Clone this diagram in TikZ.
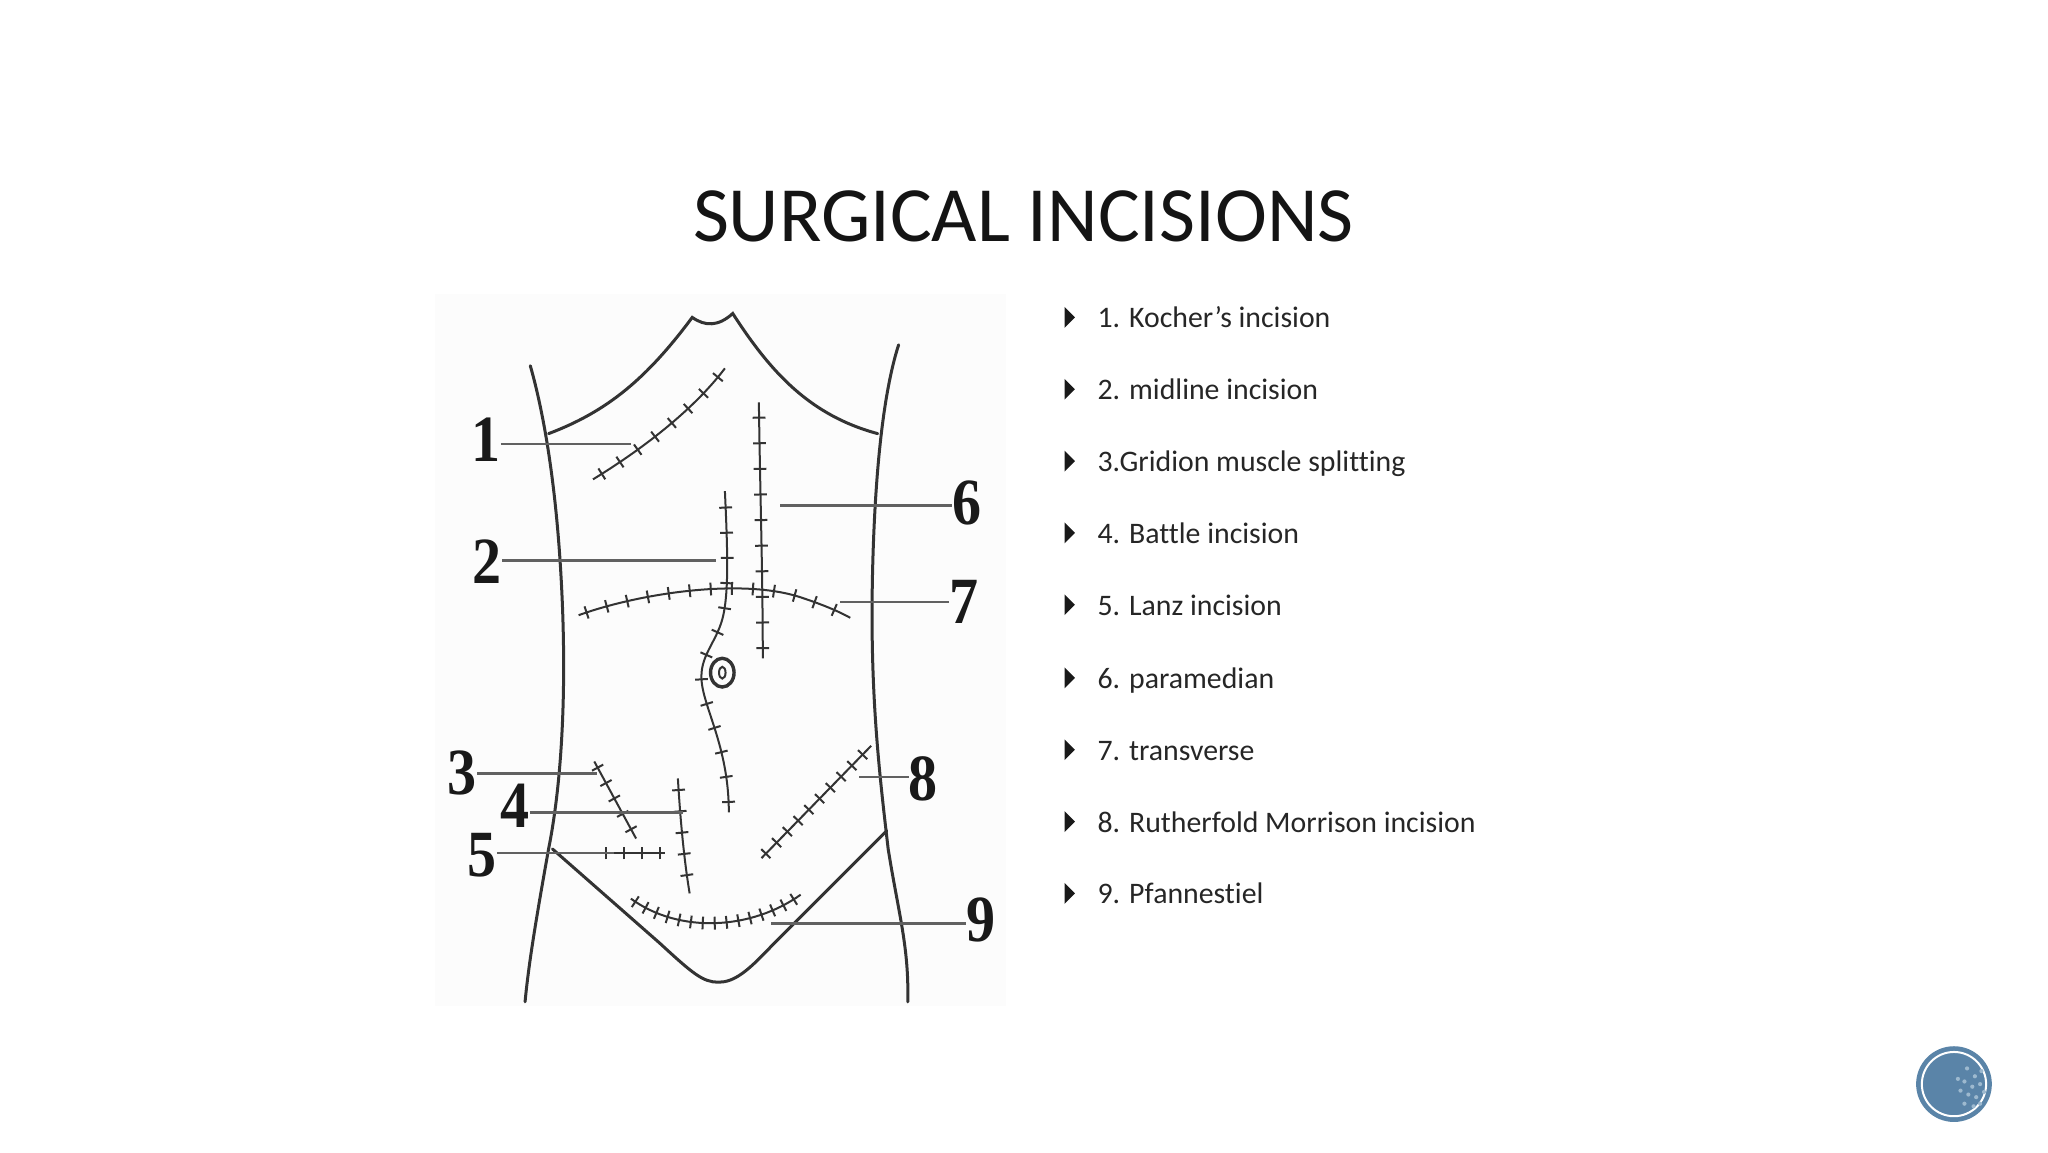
\documentclass[tikz,border=0pt]{standalone}
\usepackage{fontspec}
\setmainfont{Carlito}[Ligatures=NoCommon]
\newfontfamily\digitfont{Liberation Serif}[FakeStretch=0.88]
\usetikzlibrary{decorations.markings}
\definecolor{badge}{HTML}{5A84A8}
\definecolor{badgelight}{HTML}{9DB9CF}
\definecolor{inkline}{HTML}{333333}
\tikzset{
    bodyline/.style={line width=1.5pt, color=inkline, line cap=round},
    leader/.style={line width=1.3pt, color=black!62},
    numlabel/.style={font=\digitfont\bfseries\fontsize{33}{33}\selectfont, inner sep=0pt, color=black!90},
    itemtext/.style={font=\fontsize{14.9}{16}\selectfont, anchor=base west, inner sep=0pt, color=black!85},
    incision/.style={line width=1pt, color=inkline, postaction={decorate},
        decoration={markings, mark=between positions #1 with {\draw[line width=1pt, color=inkline] (0,-3.2pt) -- (0,3.2pt);}}},
}
\begin{document}
\begin{tikzpicture}[x=0.65306pt, y=-0.65306pt]
    \useasboundingbox (0,0) rectangle (1568,882);
    \fill[black!1] (333,225) rectangle (770,770);

    \node[font=\fontsize{39.15}{44}\selectfont, color=black!92, inner sep=0pt] (title) at (783.5,166) {SURGICAL INCISIONS};

    \draw[bodyline] (406,280) .. controls (416,315) and (426,370) .. (430,450) .. controls (434,530) and (430,600) .. (420,650) .. controls (412,695) and (405,735) .. (402,767);
    \draw[bodyline] (688,264) .. controls (678,295) and (670,350) .. (668,440) .. controls (666,530) and (673,590) .. (680,650) .. controls (688,700) and (696,725) .. (695,767);
    \draw[bodyline] (420,332) .. controls (465,315) and (495,290) .. (530,243) .. controls (540,250) and (550,250) .. (561,240) .. controls (590,285) and (620,318) .. (672,332);
    \draw[bodyline] (423,650) -- (505,722) .. controls (530,745) and (538,752) .. (550,752) .. controls (562,752) and (572,744) .. (590,725) -- (679,636);

    \draw[incision={0.06 and 0.98 step 0.125}] (454,367) .. controls (490,345) and (530,315) .. (555,282);
    \draw[incision={0.06 and 0.98 step 0.1}] (581,308) .. controls (582,380) and (584,440) .. (584,504);
    \draw[incision={0.05 and 0.97 step 0.0765}] (555,376) .. controls (557,420) and (558,450) .. (554,470) .. controls (550,490) and (537,500) .. (537,518) .. controls (537,540) and (558,570) .. (558,622);
    \draw[incision={0.03 and 0.99 step 0.0755}] (443,471) .. controls (490,454) and (570,442) .. (615,458) .. controls (630,463) and (642,468) .. (651,473);
    \draw[incision={0.08 and 0.92 step 0.2}] (455,583) -- (487,642);
    \draw[incision={0.1 and 0.9 step 0.185}] (519,596) .. controls (521,630) and (524,660) .. (528,684);
    \draw[incision={0.08 and 0.95 step 0.28}] (460,653) -- (509,653);
    \draw[incision={0.04 and 0.98 step 0.098}] (583,657) -- (667,571);
    \draw[incision={0.03 and 0.98 step 0.066}] (483,688) .. controls (520,715) and (575,712) .. (613,685);

    \draw[line width=1.7pt, color=inkline] (553,515) ellipse (9 and 11);
    \draw[line width=1pt, color=inkline] (553,515) ellipse (2.5 and 4.5);

    \node[numlabel] (num1) at (372,337) {1};
    \node[numlabel] (num2) at (373,430) {2};
    \node[numlabel] (num3) at (354,592) {3};
    \node[numlabel] (num4) at (394,617) {4};
    \node[numlabel] (num5) at (369,655) {5};
    \node[numlabel] (num6) at (740,385) {6};
    \node[numlabel] (num7) at (738,461) {7};
    \node[numlabel] (num8) at (707,596) {8};
    \node[numlabel] (num9) at (751,704) {9};

    \coordinate (end1) at (483,340);
    \coordinate (end2) at (548,429);
    \coordinate (end3) at (457,592);
    \coordinate (end4) at (523,622);
    \coordinate (end5) at (470,653);
    \coordinate (end6) at (597,387);
    \coordinate (end7) at (643,461);
    \coordinate (end8) at (658,595);
    \coordinate (end9) at (590,707);

    \foreach \n in {1,...,5}
        \draw[leader] (num\n.east |- end\n) -- (end\n);
    \foreach \n in {6,...,9}
        \draw[leader] (num\n.west |- end\n) -- (end\n);

    \foreach \n/\y/\txt in {1/243/1. Kocher’s incision, 2/298/2. midline incision, 3/353/3.Gridion muscle splitting, 4/408/4. Battle incision, 5/463/5. Lanz incision, 6/519/6. paramedian, 7/574/7. transverse, 8/629/8. Rutherfold Morrison incision, 9/684/9. Pfannestiel}{
        \node[itemtext] (item\n) at (840,\y+8) {\txt};
        \fill[black!90] (815,\y-8) -- (823,\y) -- (815,\y+8) -- cycle;
    }

    \fill[badge] (1496,830) circle (29);
    \draw[white, line width=1pt] (1496,830) circle (24.6);
    \foreach \a/\b in {1506/818,1512/824,1517/820,1504/828,1510/832,1516/830,1507/838,1513/840,1519/836,1504/845,1511/847,1501/835,1516/845,1499/826}
        \fill[badgelight] (\a,\b) circle (1.6);
\end{tikzpicture}
\end{document}
